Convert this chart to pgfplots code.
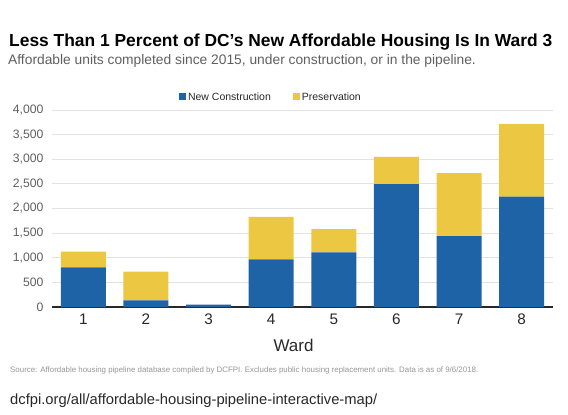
\documentclass[border=0pt]{standalone}
\usepackage{pgfplots}
\pgfplotsset{compat=1.18}
\usepackage{fontspec}
\setmainfont{Liberation Sans}
\definecolor{newc}{RGB}{30,99,165}
\definecolor{pres}{RGB}{236,200,66}
\definecolor{gridc}{RGB}{226,226,226}
\definecolor{txtc}{RGB}{40,40,40}
\definecolor{subc}{RGB}{95,95,95}
\definecolor{srcc}{RGB}{150,150,150}
\begin{document}
\begin{tikzpicture}
\path[use as bounding box] (0pt,0pt) rectangle (568pt,-415pt);

% titles
\node[anchor=base west, inner sep=0, font=\fontsize{17.4}{19}\selectfont\bfseries, text=black]
  at (9pt,-46.5pt) {Less Than 1 Percent of DC’s New Affordable Housing Is In Ward 3};
\node[anchor=base west, inner sep=0, font=\fontsize{13.8}{15}\selectfont, text=subc]
  at (8pt,-64pt) {Affordable units completed since 2015, under construction, or in the pipeline.};

\begin{axis}[
    at={(52pt,-307pt)}, anchor=south west,
    scale only axis, width=501pt, height=197pt,
    ybar stacked,
    bar width=45pt,
    xmin=0.5, xmax=8.5,
    ymin=0, ymax=4000,
    xtick={1,2,3,4,5,6,7,8},
    ytick={0,500,1000,1500,2000,2500,3000,3500,4000},
    /pgf/number format/.cd, 1000 sep={,}, assume math mode=true, /pgfplots/.cd,
    major tick length=0pt,
    ymajorgrids,
    grid style={gridc, line width=0.9pt},
    axis x line*=bottom,
    axis y line*=left,
    x axis line style={txtc, line width=1.4pt},
    y axis line style={draw=none},
    yticklabel style={font=\fontsize{12.2}{13}\selectfont, text=subc, xshift=-5pt},
    xticklabel style={font=\fontsize{15.3}{16}\selectfont, text=txtc, yshift=-3pt},
    xlabel={Ward},
    xlabel style={font=\fontsize{17}{18}\selectfont, text=txtc, yshift=-8pt, xshift=-9pt},
    legend style={at={(0.437,1.066)}, anchor=center, draw=none, fill=none,
      legend columns=2, font=\fontsize{10.5}{11}\selectfont, text=txtc,
      /tikz/every even column/.append style={column sep=20pt}},
    legend image code/.code={\fill[#1] (0pt,-2.5pt) rectangle (7pt,4.5pt);},
]
\addplot[fill=newc, draw=none] coordinates {
    (1,804) (2,135) (3,50) (4,966) (5,1108) (6,2493) (7,1439) (8,2243)
};
\addlegendentry{New Construction}
\addplot[fill=pres, draw=none] coordinates {
    (1,318) (2,581) (3,0) (4,865) (5,473) (6,554) (7,1277) (8,1473)
};
\addlegendentry{Preservation}
\end{axis}

\node[anchor=base west, inner sep=0, font=\fontsize{7.9}{8.5}\selectfont, text=srcc]
  at (10pt,-372.5pt) {Source: Affordable housing pipeline database compiled by DCFPI. Excludes public housing replacement units. Data is as of 9/6/2018.};
\node[anchor=base west, inner sep=0, font=\fontsize{14.75}{16}\selectfont, text=txtc]
  at (10pt,-404.5pt) {dcfpi.org/all/affordable-housing-pipeline-interactive-map/};
\end{tikzpicture}
\end{document}
